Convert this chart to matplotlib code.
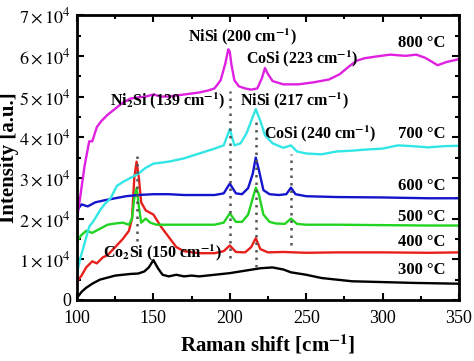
import matplotlib
matplotlib.use("Agg")
import matplotlib.pyplot as plt
from matplotlib.ticker import MultipleLocator, FuncFormatter

plt.rcParams["font.family"] = ["Liberation Serif", "DejaVu Serif"]
plt.rcParams["mathtext.fontset"] = "stix"

# --- spectra (intensity in units of 1e4) ---
x300 = [100, 103, 106, 110, 115, 120, 125, 130, 135, 140, 144, 147, 150, 153, 156, 160, 165, 170, 175, 180,
        190, 200, 210, 220, 228, 235, 240, 250, 260, 270, 280, 300, 320, 350]
y300 = [0.05, 0.2, 0.3, 0.4, 0.5, 0.55, 0.6, 0.62, 0.64, 0.65, 0.7, 0.8, 0.98, 0.78, 0.62, 0.58, 0.62, 0.58, 0.6, 0.58,
        0.62, 0.66, 0.72, 0.78, 0.8, 0.75, 0.68, 0.62, 0.54, 0.5, 0.46, 0.44, 0.42, 0.40]

x400 = [100, 103, 106, 110, 113, 117, 120, 125, 130, 134, 136, 137.5, 139, 140.5, 142, 145, 150, 155, 160, 165,
        170, 180, 190, 196, 200, 204, 210, 214, 217, 220, 225, 235, 250, 270, 300, 330, 350]
y400 = [0.45, 0.6, 0.8, 0.95, 0.9, 1.05, 1.1, 1.3, 1.5, 1.7, 2.0, 3.0, 3.4, 3.0, 2.4, 2.2, 2.1, 1.8, 1.55, 1.3,
        1.2, 1.15, 1.15, 1.2, 1.34, 1.18, 1.17, 1.3, 1.52, 1.25, 1.17, 1.18, 1.16, 1.17, 1.17, 1.16, 1.17]

x500 = [100, 103, 106, 110, 115, 120, 125, 130, 134, 136, 137.5, 139, 140.5, 142, 145, 148, 152, 160, 170, 180,
        190, 196, 200, 204, 208, 212, 215, 217, 219, 222, 226, 230, 236, 240, 244, 250, 270, 300, 330, 350]
y500 = [1.45, 1.6, 1.7, 1.65, 1.75, 1.85, 1.88, 1.9, 1.85, 2.0, 2.5, 2.75, 2.3, 1.9, 2.0, 1.9, 1.85, 1.85, 1.85, 1.85,
        1.85, 1.9, 2.13, 1.92, 1.92, 2.1, 2.5, 2.76, 2.6, 2.1, 1.92, 1.88, 1.87, 2.0, 1.87, 1.85, 1.85, 1.84, 1.83, 1.83]

x600 = [100, 103, 107, 112, 118, 125, 132, 140, 150, 160, 170, 180, 190, 196, 200, 204, 208, 212, 215, 217,
        219, 222, 226, 232, 237, 240, 243, 250, 270, 300, 330, 350]
y600 = [2.2, 2.35, 2.3, 2.4, 2.45, 2.5, 2.55, 2.58, 2.6, 2.6, 2.58, 2.58, 2.58, 2.62, 2.86, 2.62, 2.6, 2.75, 3.1, 3.5,
        3.2, 2.7, 2.6, 2.58, 2.6, 2.76, 2.6, 2.55, 2.53, 2.52, 2.5, 2.5]

x700 = [100, 102, 105, 108, 111, 115, 118, 122, 126, 130, 135, 140, 145, 150, 160, 170, 180, 190, 196, 200,
        203, 207, 211, 214, 217, 220, 223, 228, 235, 240, 244, 250, 260, 270, 280, 290, 300, 310, 320, 330, 340, 350]
y700 = [0.65, 1.0, 1.4, 1.8, 1.95, 2.2, 2.35, 2.5, 2.8, 2.9, 3.0, 3.1, 3.25, 3.35, 3.4, 3.48, 3.6, 3.72, 3.8, 4.2,
        3.8, 3.85, 4.1, 4.4, 4.69, 4.4, 4.05, 3.85, 3.74, 3.8, 3.65, 3.6, 3.58, 3.65, 3.67, 3.7, 3.72, 3.8, 3.78, 3.75, 3.78, 3.79]

x800 = [100, 102, 105, 108, 110, 113, 116, 120, 125, 130, 135, 140, 145, 150, 155, 160, 170, 180, 186, 190,
        194, 197, 199, 200, 201, 203, 206, 210, 214, 218, 221, 223, 225, 228, 235, 245, 255, 265, 272, 278,
        283, 288, 295, 305, 315, 322, 328, 336, 342, 350]
y800 = [2.0, 2.5, 3.3, 3.9, 3.9, 4.25, 4.4, 4.55, 4.7, 4.85, 4.95, 4.98, 5.0, 5.05, 5.0, 5.0, 5.05, 5.1, 5.15, 5.2,
        5.4, 5.8, 6.16, 6.1, 5.8, 5.4, 5.25, 5.2, 5.17, 5.2, 5.45, 5.7, 5.55, 5.38, 5.3, 5.3, 5.35, 5.42, 5.55, 5.74,
        5.88, 5.94, 5.98, 6.03, 6.0, 6.03, 5.95, 5.77, 5.85, 5.92]

series = [
    (x300, y300, "black", "300 °C", 0.73),
    (x400, y400, "#e8201c", "400 °C", 1.42),
    (x500, y500, "#22d422", "500 °C", 2.05),
    (x600, y600, "#1414cc", "600 °C", 2.79),
    (x700, y700, "#33e6e6", "700 °C", 4.08),
    (x800, y800, "#e020e0", "800 °C", 6.31),
]

# peak markers: position, top, bottom (1e4)
peak_pos = [139, 200, 217, 240]
peak_top = [3.6, 5.13, 4.4, 3.6]
peak_bot = [1.45, 1.03, 0.8, 1.35]

peak_labels = [
    (r"NiSi (200 cm$^{\mathbf{-1}}$)", 208.5, 6.48),
    (r"CoSi (223 cm$^{\mathbf{-1}}$)", 247, 5.94),
    (r"NiSi (217 cm$^{\mathbf{-1}}$)", 242.5, 4.89),
    (r"CoSi (240 cm$^{\mathbf{-1}}$)", 259, 4.08),
    (r"Ni$_{\mathbf{2}}$Si (139 cm$^{\mathbf{-1}}$)", 159.5, 4.89),
    (r"Co$_{\mathbf{2}}$Si (150 cm$^{\mathbf{-1}}$)", 155.6, 1.15),
]

fig = plt.figure(figsize=(4.74, 3.61), dpi=100)
ax = fig.add_axes([0.1624, 0.169, 0.806, 0.789])

for xs, ys, c, lab, ly in series:
    ax.plot(xs, [v * 1e4 for v in ys], color=c, lw=1.7)

for p, t, b in zip(peak_pos, peak_top, peak_bot):
    ax.plot([p, p], [b * 1e4, t * 1e4], color="#555555", lw=1.8, ls=(0, (1, 2)))

for xs, ys, c, lab, ly in series:
    ax.text(325.5, ly * 1e4, lab, ha="center", va="center", fontsize=12, fontweight="bold")

for txt, px, py in peak_labels:
    ax.text(px, py * 1e4, txt, ha="center", va="center", fontsize=11.5, fontweight="bold")

ax.set_xlim(100, 350)
ax.set_ylim(0, 7e4)
ax.xaxis.set_major_locator(MultipleLocator(50))
ax.xaxis.set_minor_locator(MultipleLocator(25))
ax.yaxis.set_major_locator(MultipleLocator(1e4))
ax.yaxis.set_minor_locator(MultipleLocator(5e3))


def yfmt(v, pos):
    n = int(round(v / 1e4))
    if n == 0:
        return "0"
    return r"$%d\times10^4$" % n


ax.yaxis.set_major_formatter(FuncFormatter(yfmt))
ax.tick_params(which="both", direction="in", top=True, right=True, width=1.5, labelsize=13)
ax.tick_params(which="major", length=5)
ax.tick_params(which="minor", length=3)
ax.tick_params(axis="x", pad=7)
ax.tick_params(axis="y", pad=4)
for s in ax.spines.values():
    s.set_linewidth(2)

ax.set_xlabel(r"Raman shift [cm$^{\mathbf{-1}}$]", fontsize=15, fontweight="bold")
ax.set_ylabel("Intensity [a.u.]", fontsize=15, fontweight="bold")
ax.xaxis.set_label_coords(0.5, -0.115)
ax.yaxis.set_label_coords(-0.152, 0.5)

fig.savefig("out.png", dpi=100)
